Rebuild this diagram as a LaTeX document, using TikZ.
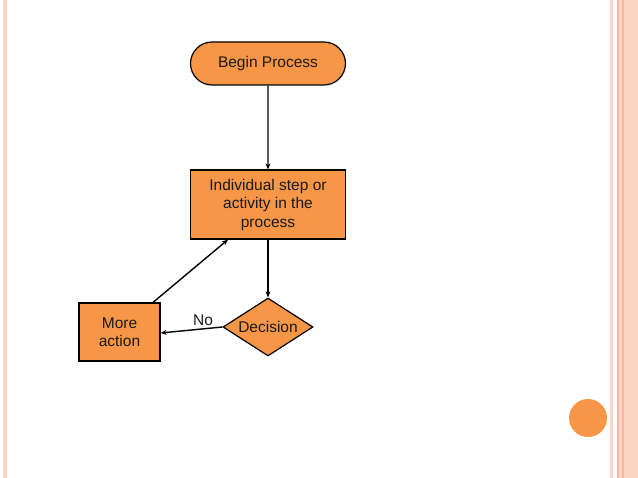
\documentclass[tikz,border=0pt]{standalone}
\usepackage{fontspec}
\setmainfont{Liberation Sans}
\usetikzlibrary{shapes.geometric,shapes.misc,arrows.meta}
\definecolor{boxorange}{HTML}{F79646}
\definecolor{stripe}{HTML}{FBD5C6}
\definecolor{stripedark}{HTML}{F2B9A2}
\definecolor{txt}{HTML}{1A1A1A}
\begin{document}
\begin{tikzpicture}[x=1pt,y=-1pt,
  every node/.style={font=\fontsize{15.5}{18.5}\selectfont,text=txt},
  shapebox/.style={draw=black,fill=boxorange,line width=1.2pt,align=center,inner sep=0pt},
  conn/.style={draw=black,line width=1.4pt,-{Stealth[length=6pt,width=5pt]}}]
\useasboundingbox (0,0) rectangle (638,478);
\fill[white] (0,0) rectangle (638,478);
% decorative stripes
\fill[stripe] (3,0) rectangle (7,478);
\fill[stripe] (610,0) rectangle (613,478);
\fill[stripe] (617,0) rectangle (638,478);
\fill[stripedark] (617,0) rectangle (618.5,478);
\fill[stripedark] (622,0) rectangle (623.5,478);
\fill[boxorange] (588,418) circle (19);
% nodes
\node[shapebox,rounded rectangle,minimum width=155pt,minimum height=43pt] (begin) at (268,63.5) {Begin Process};
\node[shapebox,rectangle,minimum width=155pt,minimum height=69pt] (step) at (268,204.5) {Individual step or\\activity in the\\process};
\node[shapebox,diamond,minimum width=90pt,minimum height=58pt,aspect=1.55] (dec) at (268,327) {Decision};
\node[shapebox,rectangle,minimum width=81pt,minimum height=58pt] (more) at (119.5,332) {More\\action};
\node (no) at (203,320) {No};
% connectors
\draw[conn] (begin) -- (step);
\draw[conn] (step) -- (dec);
\draw[conn] (dec.west) -- (more.east |- 0,333);
\draw[conn] (more.north -| 153,0) -- (step.south -| 228,0);
\end{tikzpicture}
\end{document}
